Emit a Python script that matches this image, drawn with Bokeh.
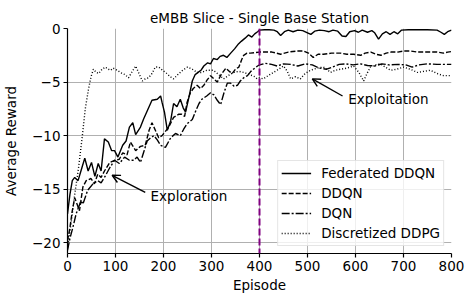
from bokeh.plotting import figure
from bokeh.models import Span, Arrow, OpenHead, Label, FixedTicker
from bokeh.embed import file_html
from bokeh.resources import INLINE

# ---------------- data ----------------
fed_x = [0, 5, 10, 15, 22, 30, 36, 43, 50, 57, 64, 70, 77, 85, 92, 98, 105, 115, 122,
         129, 136, 142, 152, 159, 166, 176, 187, 194, 197, 202, 208, 215, 221, 228, 235,
         241, 246, 253, 260, 266, 272, 278, 284, 292, 298, 304, 312, 318, 325, 332, 340,
         348, 355, 362, 370, 377, 384, 390, 396, 400, 410, 420, 430, 437, 444, 452, 460,
         470, 480, 490, 500, 507, 515, 525, 535, 545, 553, 563, 572, 580, 588, 598, 606,
         614, 625, 634, 640, 648, 656, 664, 672, 680, 688, 696, 710, 730, 750, 770, 778,
         785, 792, 800]
fed_y = [-17.3, -15.5, -14.2, -13.9, -14.2, -13.0, -12.1, -13.3, -12.5, -13.8, -12.6, -13.3,
         -10.3, -10.6, -11.4, -11.4, -12.0, -10.9, -10.5, -9.2, -8.8, -9.9, -9.2, -8.4, -7.7,
         -6.7, -6.6, -6.3, -6.9, -7.8, -9.5, -8.6, -7.0, -7.3, -6.6, -7.4, -7.8, -6.4, -4.9,
         -4.3, -4.1, -3.9, -3.5, -3.2, -3.3, -2.8, -2.9, -2.6, -2.5, -2.7, -2.3, -1.9, -1.5,
         -1.2, -0.9, -0.6, -0.8, -0.5, -0.3, -0.15, -0.12, -0.12, -0.15, -0.3, -0.65, -0.3,
         -0.15, -0.3, -0.15, -0.2, -0.4, -0.55, -0.25, -0.15, -0.2, -0.3, -0.15, -0.25, -0.7,
         -0.75, -0.3, -0.2, -0.35, -0.15, -0.35, -0.2, -0.4, -1.0, -0.5, -0.3, -0.55, -0.3,
         -0.5, -0.15, -0.12, -0.12, -0.12, -0.15, -0.35, -0.55, -0.3, -0.15]

ddqn_x = [0, 5, 10, 15, 20, 25, 32, 39, 49, 56, 63, 70, 77, 88, 98, 108, 115, 124, 131,
          142, 152, 162, 170, 176, 183, 190, 197, 204, 211, 221, 232, 238, 244, 249, 256,
          262, 270, 277, 284, 291, 298, 305, 312, 320, 330, 337, 343, 350, 357, 363, 367,
          374, 381, 390, 400, 412, 426, 444, 460, 478, 492, 502, 512, 522, 533, 550, 569,
          582, 596, 611, 620, 632, 642, 653, 664, 674, 688, 701, 715, 729, 745, 756, 770,
          783, 792, 800]
ddqn_y = [-19.8, -18.6, -17.0, -15.8, -16.4, -17.0, -14.8, -14.2, -14.0, -14.5, -13.6, -13.9,
          -13.3, -12.5, -12.3, -12.2, -11.6, -11.8, -10.6, -11.4, -11.0, -10.9, -9.5, -8.8,
          -9.5, -10.2, -10.0, -9.6, -9.2, -8.3, -8.0, -8.0, -8.2, -6.9, -6.0, -5.6, -5.3,
          -5.6, -5.3, -4.8, -4.4, -4.7, -5.0, -4.3, -3.7, -4.0, -4.2, -3.8, -3.6, -2.9, -2.5,
          -2.3, -2.3, -2.25, -2.2, -2.2, -2.2, -2.4, -2.2, -2.1, -2.1, -2.3, -2.7, -2.4, -2.4,
          -2.3, -2.3, -2.4, -2.4, -2.5, -2.3, -2.2, -2.4, -2.5, -2.3, -2.2, -2.2, -2.1, -2.1,
          -2.2, -2.2, -2.2, -2.2, -2.3, -2.2, -2.15]

dqn_x = [0, 5, 11, 18, 28, 32, 42, 53, 63, 70, 77, 88, 98, 108, 119, 129, 138, 145, 152,
         159, 166, 173, 180, 187, 194, 204, 215, 225, 235, 242, 249, 260, 268, 274, 280,
         290, 298, 305, 312, 319, 326, 333, 340, 347, 354, 360, 367, 375, 382, 390, 396,
         400, 412, 425, 437, 450, 465, 480, 495, 510, 525, 540, 552, 566, 580, 595, 610,
         625, 640, 655, 670, 688, 705, 718, 732, 750, 770, 800]
dqn_y = [-20.7, -19.6, -18.6, -17.3, -16.1, -16.4, -15.1, -14.5, -14.2, -14.4, -13.9, -13.0,
         -12.3, -12.6, -12.0, -12.3, -12.3, -12.0, -12.5, -11.5, -10.5, -10.2, -10.0, -10.4,
         -10.9, -11.1, -10.2, -9.8, -10.0, -9.4, -8.9, -8.5, -7.6, -7.0, -6.6, -6.3, -6.0,
         -6.2, -6.7, -7.1, -6.0, -5.1, -5.1, -5.4, -5.3, -4.9, -4.6, -4.4, -4.0, -3.7, -3.5,
         -3.4, -3.25, -3.35, -3.5, -3.3, -3.35, -3.5, -3.3, -3.4, -3.7, -3.8, -3.6, -3.35,
         -3.3, -3.4, -3.3, -3.45, -3.5, -3.3, -3.4, -3.35, -3.4, -3.6, -3.4, -3.3, -3.35,
         -3.35]

ddpg_x = [0, 8, 15, 23, 31, 37, 44, 49, 54, 60, 65, 72, 79, 85, 90, 95, 100, 107, 114, 120,
          127, 135, 142, 149, 156, 162, 169, 176, 183, 190, 198, 207, 214, 221, 230, 240,
          250, 260, 270, 280, 290, 304, 315, 325, 335, 346, 357, 367, 380, 390, 395, 400,
          408, 418, 429, 440, 450, 458, 465, 475, 485, 495, 506, 520, 533, 540, 548, 558,
          569, 582, 596, 607, 617, 624, 631, 641, 652, 662, 673, 686, 700, 714, 729, 742,
          756, 770, 783, 800]
ddpg_y = [-20.5, -18.0, -15.5, -13.0, -10.0, -7.5, -5.6, -4.5, -3.8, -4.1, -4.2, -3.8, -3.6,
          -3.8, -3.9, -3.7, -3.8, -4.0, -4.2, -4.3, -4.6, -4.0, -3.5, -4.2, -4.9, -4.7, -4.6,
          -4.2, -3.6, -3.6, -3.9, -4.2, -4.5, -4.7, -4.3, -3.9, -3.6, -3.8, -4.1, -4.1, -3.9,
          -3.9, -4.3, -4.7, -4.4, -4.1, -4.0, -4.1, -4.3, -4.5, -4.7, -4.6, -4.7, -4.4, -4.1,
          -3.8, -3.5, -4.0, -4.7, -4.5, -4.7, -4.2, -3.9, -3.7, -3.6, -3.8, -4.1, -3.9, -3.8,
          -3.7, -3.5, -4.1, -4.9, -4.2, -3.6, -3.4, -3.3, -3.6, -3.9, -3.8, -3.6, -3.8, -4.1,
          -4.0, -3.9, -4.2, -4.4, -4.4]

series_names = ["Federated DDQN", "DDQN", "DQN", "Discretized DDPG"]
x_ticks = [0, 100, 200, 300, 400, 500, 600, 700, 800]
x_tick_labels = ["0", "100", "200", "300", "400", "500", "600", "700", "800"]
y_ticks = [0, -5, -10, -15, -20]
y_tick_labels = ["0", "\u22125", "\u221210", "\u221215", "\u221220"]
switch_episode = 400
annot_exploit = dict(text="Exploitation", tx=585, ty=-6.6, ax0=573, ay0=-6.3, ax1=510, ay1=-4.7)
annot_explore = dict(text="Exploration", tx=173, ty=-15.6, ax0=162, ay0=-15.3, ax1=93, ay1=-13.7)

FONT = "DejaVu Sans"
FS = "13.5px"

p = figure(width=474, height=304, output_backend="svg", toolbar_location=None,
           x_range=(0, 800), y_range=(-21, 0),
           title="eMBB Slice - Single Base Station",
           min_border_left=67, min_border_right=23, min_border_top=28, min_border_bottom=51)

p.title.text_font = FONT
p.title.text_font_size = FS
p.title.text_font_style = "normal"
p.title.text_color = "black"
p.title.align = "center"
p.title.standoff = 6

lw = 1.4
p.line(fed_x, fed_y, line_color="black", line_width=lw, legend_label=series_names[0])
p.line(ddqn_x, ddqn_y, line_color="black", line_width=lw, line_dash="5 2", legend_label=series_names[1])
p.line(dqn_x, dqn_y, line_color="black", line_width=lw, line_dash="8 2 2 2", legend_label=series_names[2])
p.line(ddpg_x, ddpg_y, line_color="black", line_width=lw, line_dash="1 2", legend_label=series_names[3])

p.add_layout(Span(location=switch_episode, dimension="height", line_color="#800080",
                  line_width=2, line_dash="7 3"))

for a in (annot_exploit, annot_explore):
    p.add_layout(Label(x=a["tx"], y=a["ty"], text=a["text"], text_baseline="middle",
                       text_font=FONT, text_font_size=FS, text_color="black"))
    p.add_layout(Arrow(end=OpenHead(size=8, line_width=1.4, line_color="black"),
                       x_start=a["ax0"], y_start=a["ay0"], x_end=a["ax1"], y_end=a["ay1"],
                       line_width=1.4, line_color="black"))

p.xaxis.ticker = FixedTicker(ticks=x_ticks)
p.yaxis.ticker = FixedTicker(ticks=y_ticks)
p.xaxis.major_label_overrides = dict(zip(x_ticks, x_tick_labels))
p.yaxis.major_label_overrides = dict(zip(y_ticks, y_tick_labels))
p.xaxis.axis_label = "Episode"
p.yaxis.axis_label = "Average Reward"
for ax in (p.xaxis, p.yaxis):
    ax.axis_label_text_font = FONT
    ax.axis_label_text_font_size = FS
    ax.axis_label_text_font_style = "normal"
    ax.axis_label_text_color = "black"
    ax.major_label_text_font = FONT
    ax.major_label_text_font_size = FS
    ax.major_label_text_color = "black"
    ax.axis_line_color = "black"
    ax.axis_line_width = 1.2
    ax.major_tick_line_color = "black"
    ax.major_tick_line_width = 1.2
    ax.major_tick_in = 0
    ax.major_tick_out = 4
    ax.minor_tick_line_color = None
    ax.major_label_standoff = 3
p.xaxis.axis_label_standoff = 3
p.yaxis.axis_label_standoff = 10

p.grid.grid_line_color = "#b0b0b0"
p.grid.grid_line_width = 1
p.outline_line_color = None
p.background_fill_color = "white"
p.border_fill_color = "white"

lg = p.legend[0]
lg.location = "bottom_right"
lg.margin = 7
lg.label_text_font = FONT
lg.label_text_font_size = FS
lg.label_text_color = "black"
lg.glyph_width = 30
lg.glyph_height = 16
lg.label_height = 18
lg.spacing = 2
lg.padding = 3
lg.label_standoff = 10
lg.border_line_color = "#cccccc"
lg.background_fill_alpha = 0.8

open("out.html", "w").write(file_html(p, INLINE))
